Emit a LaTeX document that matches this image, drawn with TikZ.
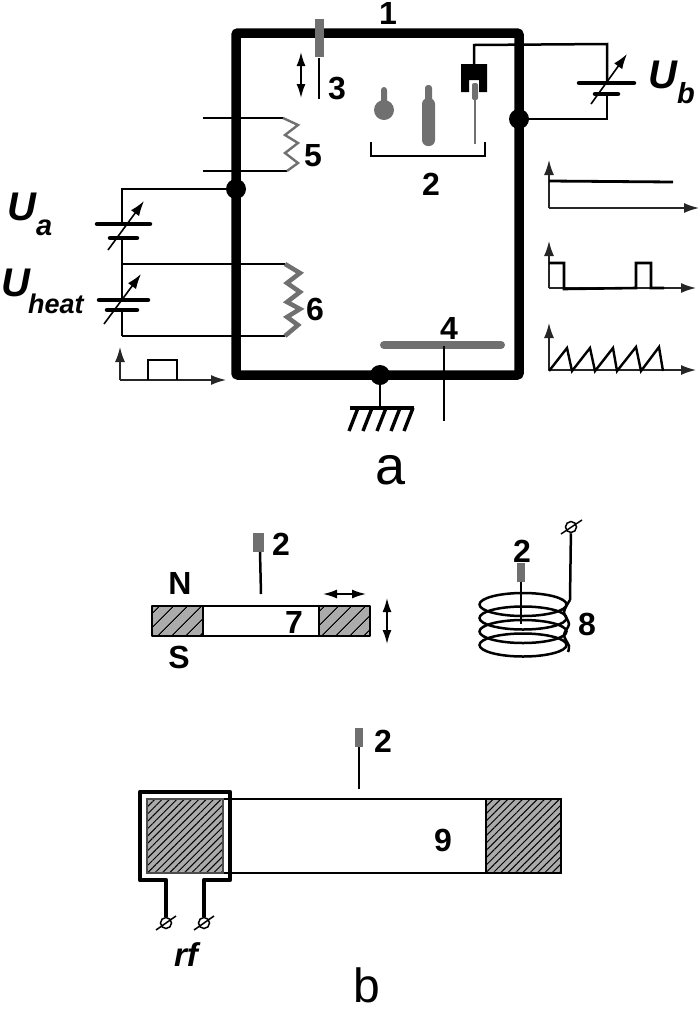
\documentclass[tikz,border=0pt]{standalone}
\usepackage{fontspec}
\setmainfont{Liberation Sans}
\usetikzlibrary{arrows.meta,patterns.meta}
\definecolor{pingrey}{HTML}{707070}
\definecolor{coregrey}{HTML}{ABABAB}

\begin{document}
\begin{tikzpicture}[
    x=1pt, y=-1pt,
    wall/.style={line width=9.5pt, rounded corners=2pt},
    wire/.style={line width=2.5pt},
    thinwire/.style={line width=1.5pt},
    plate/.style={line width=4.5pt, line cap=round},
    spiral/.style={pingrey, line join=miter},
    joint/.style={circle, fill=black, minimum size=20pt, inner sep=0pt},
    terminal/.style={circle, draw, fill=white, line width=1.5pt, minimum size=11pt, inner sep=0pt},
    numnode/.style={font=\fontsize{32}{32}\selectfont\bfseries, inner sep=0pt},
    voltnode/.style={font=\fontsize{40}{40}\selectfont\bfseries\itshape, inner sep=0pt, anchor=base west},
    capnode/.style={font=\fontsize{54}{54}\selectfont, inner sep=0pt},
    tune/.style={line width=1.6pt, -{Latex[length=15pt,width=10pt]}},
    twoway/.style={line width=1.6pt, {Latex[length=14pt,width=9pt]}-{Latex[length=14pt,width=9pt]}},
    axis/.style={line width=1.5pt, black!85, -{Latex[length=15pt,width=10pt]}},
    core/.style={fill=coregrey, draw=none}
]
\useasboundingbox (0,0) rectangle (700,1013);

% Chamber
\draw[wall] (236,33) rectangle (519,375);
\node[joint] (anode) at (236,189) {};
\node[joint] (cathode) at (519,119) {};
\node[joint] (earth) at (380,375) {};
\node[numnode] (n1) at (388,13) {1};

% Probes
\fill[pingrey] (315,19) rectangle (324,57);
\draw[wire] (319,58) -- (319,99);
\draw[twoway] (301,52) -- (301,98);
\node[numnode] (n3) at (337,89) {3};
\fill[pingrey] (253,533) rectangle (264,552);
\draw[wire] (260,552) -- (261,594);
\fill[pingrey] (517,563) rectangle (525,582);
\draw[wire] (521,582) -- (521,624);
\fill[pingrey] (355,728) rectangle (363,747);
\draw[wire] (359,747) -- (359,789);

% Tips inside the chamber
\fill[pingrey, rounded corners=3pt] (381,87) rectangle (387,104);
\fill[pingrey] (384,110) circle (10);
\fill[pingrey, rounded corners=3pt] (425,85) rectangle (432,104);
\fill[pingrey, rounded corners=6pt] (422,98) rectangle (435,146);
\fill[black] (461,64) -- (487,64) -- (487,92) -- (479,92) -- (479,80) -- (469,80) -- (469,92) -- (461,92) -- cycle;
\fill[pingrey, rounded corners=2pt] (472,83) rectangle (478,100);
\draw[spiral, wire] (475,100) -- (475,144);
\draw[thinwire] (371,142) -- (371,156) -- (485,156) -- (485,142);
\node[numnode] (n2) at (431,184) {2};

% Cathode supply
\coordinate (bcorner) at (607,44);
\coordinate (bfoot) at (607,119);
\draw[wire] (474,64) -- (474,45) -- (bcorner) -- (607,83);
\draw[wire] (607,94) -- (bfoot) -- (cathode);
\draw[plate] (579,83) -- (634,83);
\draw[plate] (595,94) -- (618,94);
\draw[tune] (591,104) -- (627,54);
\node[voltnode] (ub) at (648,88) {U\raisebox{-15pt}{\fontsize{29}{29}\selectfont b}};

% Left supplies and heaters
\coordinate (acorner) at (122,189);
\coordinate (mid) at (122,264);
\coordinate (low) at (122,336);
\draw[wire] (anode) -- (acorner) -- (122,224);
\draw[wire] (122,238) -- (mid) -- (122,300);
\draw[wire] (122,310) -- (low);
\draw[plate] (97,224) -- (150,224);
\draw[plate] (110,238) -- (137,238);
\draw[plate] (99,300) -- (148,300);
\draw[plate] (107,310) -- (137,310);
\draw[tune] (108,250) -- (144,201);
\draw[tune] (104,324) -- (141,274);
\node[voltnode] (ua) at (7,220) {U\raisebox{-15pt}{\fontsize{29}{29}\selectfont a}};
\node[voltnode] (uheat) at (1,296) {U\kern-2pt\raisebox{-17pt}{\fontsize{27}{27}\selectfont heat}};

\draw[wire] (203,118) -- (284,118);
\draw[wire] (203,171) -- (287,171);
\draw[spiral, line width=2.4pt] (283,118) -- (298,125) -- (285,135) -- (298,143) -- (285,153) -- (298,163) -- (287,171);
\node[numnode] (n5) at (313,156) {5};
\draw[wire] (mid) -- (285,264);
\draw[wire] (low) -- (285,336);
\draw[spiral, line width=4.5pt] (285,264) -- (300,273) -- (287,283) -- (300,292) -- (287,302) -- (300,309) -- (287,317) -- (298,325) -- (285,336);
\node[numnode] (n6) at (315,309) {6};

% Target and ground
\draw[pingrey, line width=8pt, line cap=round] (384,345) -- (501,345);
\draw[wire] (444,346) -- (444,421);
\node[numnode] (n4) at (449,328) {4};
\coordinate (gnd) at (380,408);
\draw[wire] (earth) -- (gnd);
\draw[line width=4pt] (350,408) -- (414,408);
\foreach \x in {358,372,386,400,413} {
    \draw[line width=3.4pt] (\x,408) -- ({\x-9},431);
}
\node[capnode] (capa) at (391,470) {a};

% Waveforms
\draw[axis] (549,208) -- (549,160);
\draw[axis] (549,208) -- (699,208);
\draw[line width=2.8pt] (549,181) -- (673,182);
\draw[axis] (549,288) -- (549,241);
\draw[axis] (549,288) -- (696,288);
\draw[line width=2.6pt] (549,263) -- (564,263) -- (564,289) -- (636,288) -- (636,263) -- (651,263) -- (651,288) -- (664,288);
\draw[axis] (549,370) -- (549,323);
\draw[axis] (549,370) -- (696,370);
\draw[line width=2.4pt] (549,371) -- (567,348) -- (572,371) -- (590,348) -- (595,371) -- (613,348) -- (617,371) -- (636,347) -- (641,371) -- (659,347) -- (663,371);
\draw[axis] (120,380) -- (120,347);
\draw[axis] (120,380) -- (226,380);
\draw[wire] (148,380) -- (148,360) -- (177,360) -- (177,380);

% Magnet
\fill[core] (152,606) rectangle (203,636);
\fill[core] (319,606) rectangle (370,636);
\fill[pattern={Lines[angle=45,distance=10.5pt,line width=1.1pt]}] (152,606) rectangle (203,636);
\fill[pattern={Lines[angle=45,distance=10.5pt,line width=1.1pt]}] (319,606) rectangle (370,636);
\draw[wire, line join=round] (152,606) rectangle (370,636);
\draw[wire] (203,606) -- (203,636);
\draw[wire] (319,606) -- (319,636);
\draw[twoway] (323,594) -- (366,594);
\draw[twoway] (387,598) -- (387,644);
\node[numnode] (n2b) at (281,544) {2};
\node[numnode] (n7) at (294,622) {7};
\node[numnode] (nN) at (180,583) {N};
\node[numnode] (nS) at (179,657) {S};

% Coil
\node[terminal] (coilend) at (571,527) {};
\draw[thinwire] (561,534) -- (582,520);
\coordinate (coilstart) at (570,600);
\draw[wire] (coilend) -- (coilstart);
\foreach \y in {604.5,618,631.5,645} {
    \draw[wire] (523,\y) ellipse (43.5 and 11.5);
}
\draw[wire] plot[smooth] coordinates {(coilstart) (564,612) (569,624) (564,635) (569,646) (568,652)};
\node[numnode] (n2c) at (522,551) {2};
\node[numnode] (n8) at (587,624) {8};

% Ring with rf winding
\fill[core] (147,799) rectangle (223,873);
\fill[core] (486,799) rectangle (561,873);
\fill[pattern={Lines[angle=45,distance=5.2pt,line width=1pt]}] (147,799) rectangle (223,873);
\fill[pattern={Lines[angle=45,distance=5.2pt,line width=1pt]}] (486,799) rectangle (561,873);
\draw[wire] (223,799) -- (561,799) -- (561,873) -- (223,873);
\draw[wire] (486,799) -- (486,873);
\draw[line width=1.4pt, black!70] (147,799) rectangle (223,873);
\node[terminal] (rfa) at (166,923) {};
\node[terminal] (rfb) at (204,923) {};
\draw[thinwire] (156,930) -- (176,916);
\draw[thinwire] (194,930) -- (214,916);
\draw[line width=4.5pt, line join=round] (rfa) -- (166,880) -- (140,880) -- (140,792) -- (230,792) -- (230,880) -- (204,880) -- (rfb);
\node[font=\fontsize{33}{33}\selectfont\bfseries\itshape, inner sep=0pt] (rf) at (186,955) {rf};
\node[numnode] (n2d) at (383,741) {2};
\node[numnode] (n9) at (443,840) {9};
\node[capnode, font=\fontsize{48}{48}\selectfont] (capb) at (367,985.5) {b};
\end{tikzpicture}
\end{document}
